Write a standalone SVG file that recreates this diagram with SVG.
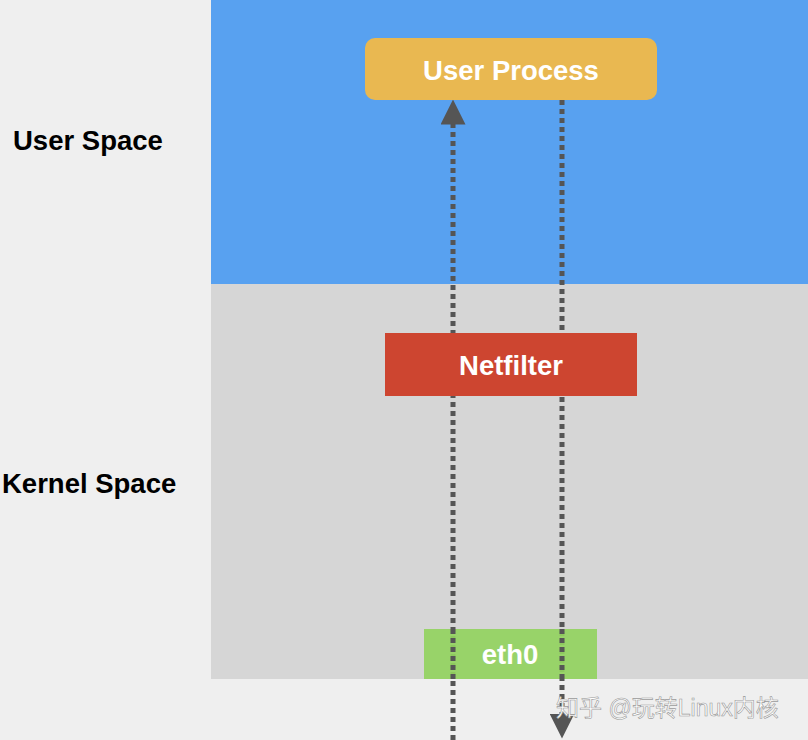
<svg xmlns="http://www.w3.org/2000/svg" width="808" height="740" viewBox="0 0 808 740">
<style>
.lbl{font-family:"Liberation Sans",Arial,sans-serif;font-weight:bold;font-size:27.5px;fill:#000}
.nt{font-family:"Liberation Sans",Arial,sans-serif;font-weight:bold;font-size:27.5px;fill:#fff;text-anchor:middle}
.dl{stroke:#555;stroke-width:5;stroke-dasharray:5 4;fill:none}
</style>
<defs>
<marker id="ah" markerWidth="5" markerHeight="5" refX="2.5" refY="2.5" orient="auto" markerUnits="strokeWidth"><path d="M0,0 L5,2.5 L0,5 z" fill="#555"/></marker>
</defs>
<rect width="808" height="740" fill="#efefef"/>
<rect x="211" y="0" width="597" height="284" fill="#58a1f0"/>
<rect x="211" y="284" width="597" height="395" fill="#d6d6d6"/>
<text class="lbl" x="13" y="150">User Space</text>
<text class="lbl" x="2" y="493">Kernel Space</text>
<g id="connectors">
<line class="dl" x1="453" y1="740" x2="453" y2="112" marker-end="url(#ah)"/>
<line class="dl" x1="562" y1="100" x2="562" y2="726" marker-end="url(#ah)"/>
</g>
<g id="user-process">
<rect x="365" y="38" width="292" height="62" rx="10" fill="#e9b851"/>
<text class="nt" x="511" y="80">User Process</text>
</g>
<g id="netfilter">
<rect x="385" y="333" width="252" height="63" fill="#cd4530"/>
<text class="nt" x="511" y="375">Netfilter</text>
</g>
<g id="eth0">
<rect x="424" y="629" width="173" height="50" fill="#92d35f" fill-opacity="0.92"/>
<text class="nt" x="510" y="664">eth0</text>
</g>
<line class="dl" x1="453" y1="629" x2="453" y2="679"/>
<line class="dl" x1="562" y1="629" x2="562" y2="679"/>
<text x="556" y="716" font-family="'Liberation Sans','Noto Sans CJK SC',sans-serif" font-size="23" fill="#fff" stroke="#999" stroke-width="0.6">知乎 @玩转Linux内核</text>
</svg>
